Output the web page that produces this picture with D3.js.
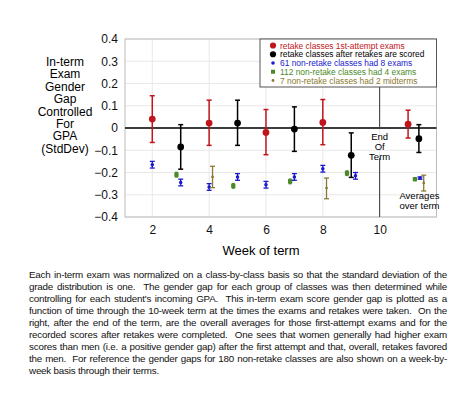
<!DOCTYPE html>
<html><head><meta charset="utf-8">
<script src="https://cdn.jsdelivr.net/npm/d3@7"></script>
<style>
body{margin:0;background:#fff;font-family:"Liberation Sans",Arial,sans-serif;}
#cap{position:absolute;left:29px;top:269px;width:418px;font-size:9.8px;letter-spacing:-0.2px;line-height:12px;text-align:justify;color:#111;}
</style></head><body>
<svg id="c" width="474" height="418" style="position:absolute;left:0;top:0"></svg>
<div id="cap">Each in-term exam was normalized on a class-by-class basis so that the standard deviation of the grade distribution is one.&nbsp; The gender gap for each group of classes was then determined while controlling for each student's incoming GPA.&nbsp; This in-term exam score gender gap is plotted as a function of time through the 10-week term at the times the exams and retakes were taken.&nbsp; On the right, after the end of the term, are the overall averages for those first-attempt exams and for the recorded scores after retakes were completed.&nbsp; One sees that women generally had higher exam scores than men (i.e. a positive gender gap) after the first attempt and that, overall, retakes favored the men.&nbsp; For reference the gender gaps for 180 non-retake classes are also shown on a week-by-week basis through their terms.</div>
<script>
// [x, value, low, high]
const redFirst = [[2,0.04,-0.065,0.145],[4,0.022,-0.078,0.125],[6,-0.02,-0.12,0.083],[8,0.025,-0.075,0.128],[11,0.017,-0.045,0.08]];
const blackRetake = [[3,-0.085,-0.185,0.015],[5,0.022,-0.078,0.125],[7,-0.005,-0.105,0.095],[9,-0.123,-0.222,-0.022],[11.38,-0.048,-0.11,0.015]];
const blue8 = [[2,-0.165,-0.18,-0.15],[3,-0.245,-0.26,-0.23],[4,-0.265,-0.28,-0.25],[5,-0.22,-0.235,-0.205],[6,-0.255,-0.27,-0.24],[7,-0.22,-0.235,-0.205],[8,-0.183,-0.198,-0.168],[9.15,-0.215,-0.23,-0.2],[11.42,-0.225,-0.23,-0.22]];
const green4 = [[2.85,-0.21,-0.22,-0.2],[4.85,-0.26,-0.27,-0.25],[6.85,-0.24,-0.25,-0.23],[8.85,-0.203,-0.213,-0.193],[11.24,-0.23,-0.236,-0.224]];
const olive2 = [[4.12,-0.22,-0.268,-0.172],[8.13,-0.27,-0.318,-0.225],[11.55,-0.247,-0.283,-0.212]];
const xTicks = [2,4,6,8,10];
const yTicks = [-0.4,-0.3,-0.2,-0.1,0,0.1,0.2,0.3,0.4];
const legendLabels = ["retake classes 1st-attempt exams","retake classes after retakes are scored","61 non-retake classes had 8 exams","112 non-retake classes had 4 exams","7 non-retake classes had 2 midterms"];

const svg = d3.select("#c");
const x = d3.scaleLinear().domain([1.04,12]).range([125,436.5]);
const y = d3.scaleLinear().domain([-0.4,0.4]).range([217,39]);
const g = svg.append("g");
g.append("g").selectAll("line").data(xTicks).join("line").attr("x1",d=>x(d)).attr("x2",d=>x(d)).attr("y1",39).attr("y2",217).attr("stroke","#e8e8e8");
g.append("g").selectAll("line").data(yTicks).join("line").attr("y1",d=>y(d)).attr("y2",d=>y(d)).attr("x1",125).attr("x2",436.5).attr("stroke","#e8e8e8");
g.append("rect").attr("x",125).attr("y",39).attr("width",311.5).attr("height",178).attr("fill","none").attr("stroke","#bbb");
const yAx = g.append("g").attr("transform","translate(125,0)").call(d3.axisLeft(y).tickValues(yTicks).tickSize(0).tickPadding(7).tickFormat(d=>d===0?"0":d3.format(".1f")(d)));
yAx.select(".domain").remove();
yAx.selectAll("text").attr("font-size",12).attr("font-family","Liberation Sans, Arial").attr("fill","#111");
const xAx = g.append("g").attr("transform","translate(0,217)").call(d3.axisBottom(x).tickValues(xTicks).tickSize(0).tickPadding(8));
xAx.select(".domain").remove();
xAx.selectAll("text").attr("font-size",12).attr("font-family","Liberation Sans, Arial").attr("fill","#111");
g.append("line").attr("x1",125).attr("x2",436.5).attr("y1",y(0)).attr("y2",y(0)).attr("stroke","#000").attr("stroke-width",1.5);
g.append("line").attr("x1",x(10)).attr("x2",x(10)).attr("y1",87).attr("y2",y(0.005)).attr("stroke","#333");
g.append("line").attr("x1",x(10)).attr("x2",x(10)).attr("y1",y(-0.135)).attr("y2",217).attr("stroke","#333");
["End","Of","Term"].forEach((t,i)=>g.append("text").attr("x",x(10)).attr("y",y(0)+12+i*10).attr("text-anchor","middle").attr("font-size",9.5).text(t));
["Averages","over term"].forEach((t,i)=>g.append("text").attr("x",x(11.4)).attr("y",y(-0.32)+i*10).attr("text-anchor","middle").attr("font-size",9.5).text(t));
g.append("text").attr("x",261).attr("y",255).attr("text-anchor","middle").attr("font-size",13).text("Week of term");
["In-term","Exam","Gender","Gap","Controlled","For","GPA","(StdDev)"].forEach((t,i)=>g.append("text").attr("x",65).attr("y",66+i*12.4).attr("text-anchor","middle").attr("font-size",12).text(t));

function series(data,color,sym,size,cap,sw){
  const s=g.append("g");
  s.selectAll("line.e").data(data).join("line").attr("x1",d=>x(d[0])).attr("x2",d=>x(d[0])).attr("y1",d=>y(d[2])).attr("y2",d=>y(d[3])).attr("stroke",color).attr("stroke-width",sw);
  [2,3].forEach(k=>s.selectAll("line.c"+k).data(data).join("line").attr("x1",d=>x(d[0])-cap).attr("x2",d=>x(d[0])+cap).attr("y1",d=>y(d[k])).attr("y2",d=>y(d[k])).attr("stroke",color).attr("stroke-width",sw));
  s.selectAll("path").data(data).join("path").attr("transform",d=>`translate(${x(d[0])},${y(d[1])})`).attr("d",d3.symbol(sym,size)).attr("fill",color);
}
series(redFirst,"#c0151b",d3.symbolCircle,36,2.5,1.5);
series(blackRetake,"#000",d3.symbolCircle,36,2.5,1.5);
series(green4,"#4a8a2a",d3.symbolSquare,18,1.5,1.5);
series(blue8,"#1a1acc",d3.symbolCircle,10,2.5,1.3);
series(olive2,"#8a7a30",d3.symbolCircle,6,2.5,1.3);

const lg=g.append("g");
lg.append("rect").attr("x",260).attr("y",39).attr("width",176.5).attr("height",48).attr("fill","#fff").attr("stroke","#555");
const lc=["#c0151b","#000","#1a1acc","#4a8a2a","#8a7a30"], ls=[d3.symbolCircle,d3.symbolCircle,d3.symbolCircle,d3.symbolSquare,d3.symbolCircle], lz=[30,30,10,16,6];
legendLabels.forEach((t,i)=>{
  const yy=45.5+i*8.75;
  lg.append("path").attr("transform",`translate(273,${yy})`).attr("d",d3.symbol(ls[i],lz[i])).attr("fill",lc[i]);
  lg.append("text").attr("x",280).attr("y",yy+3).attr("font-size",8.4).attr("fill",lc[i]).text(t);
});
</script></body></html>
